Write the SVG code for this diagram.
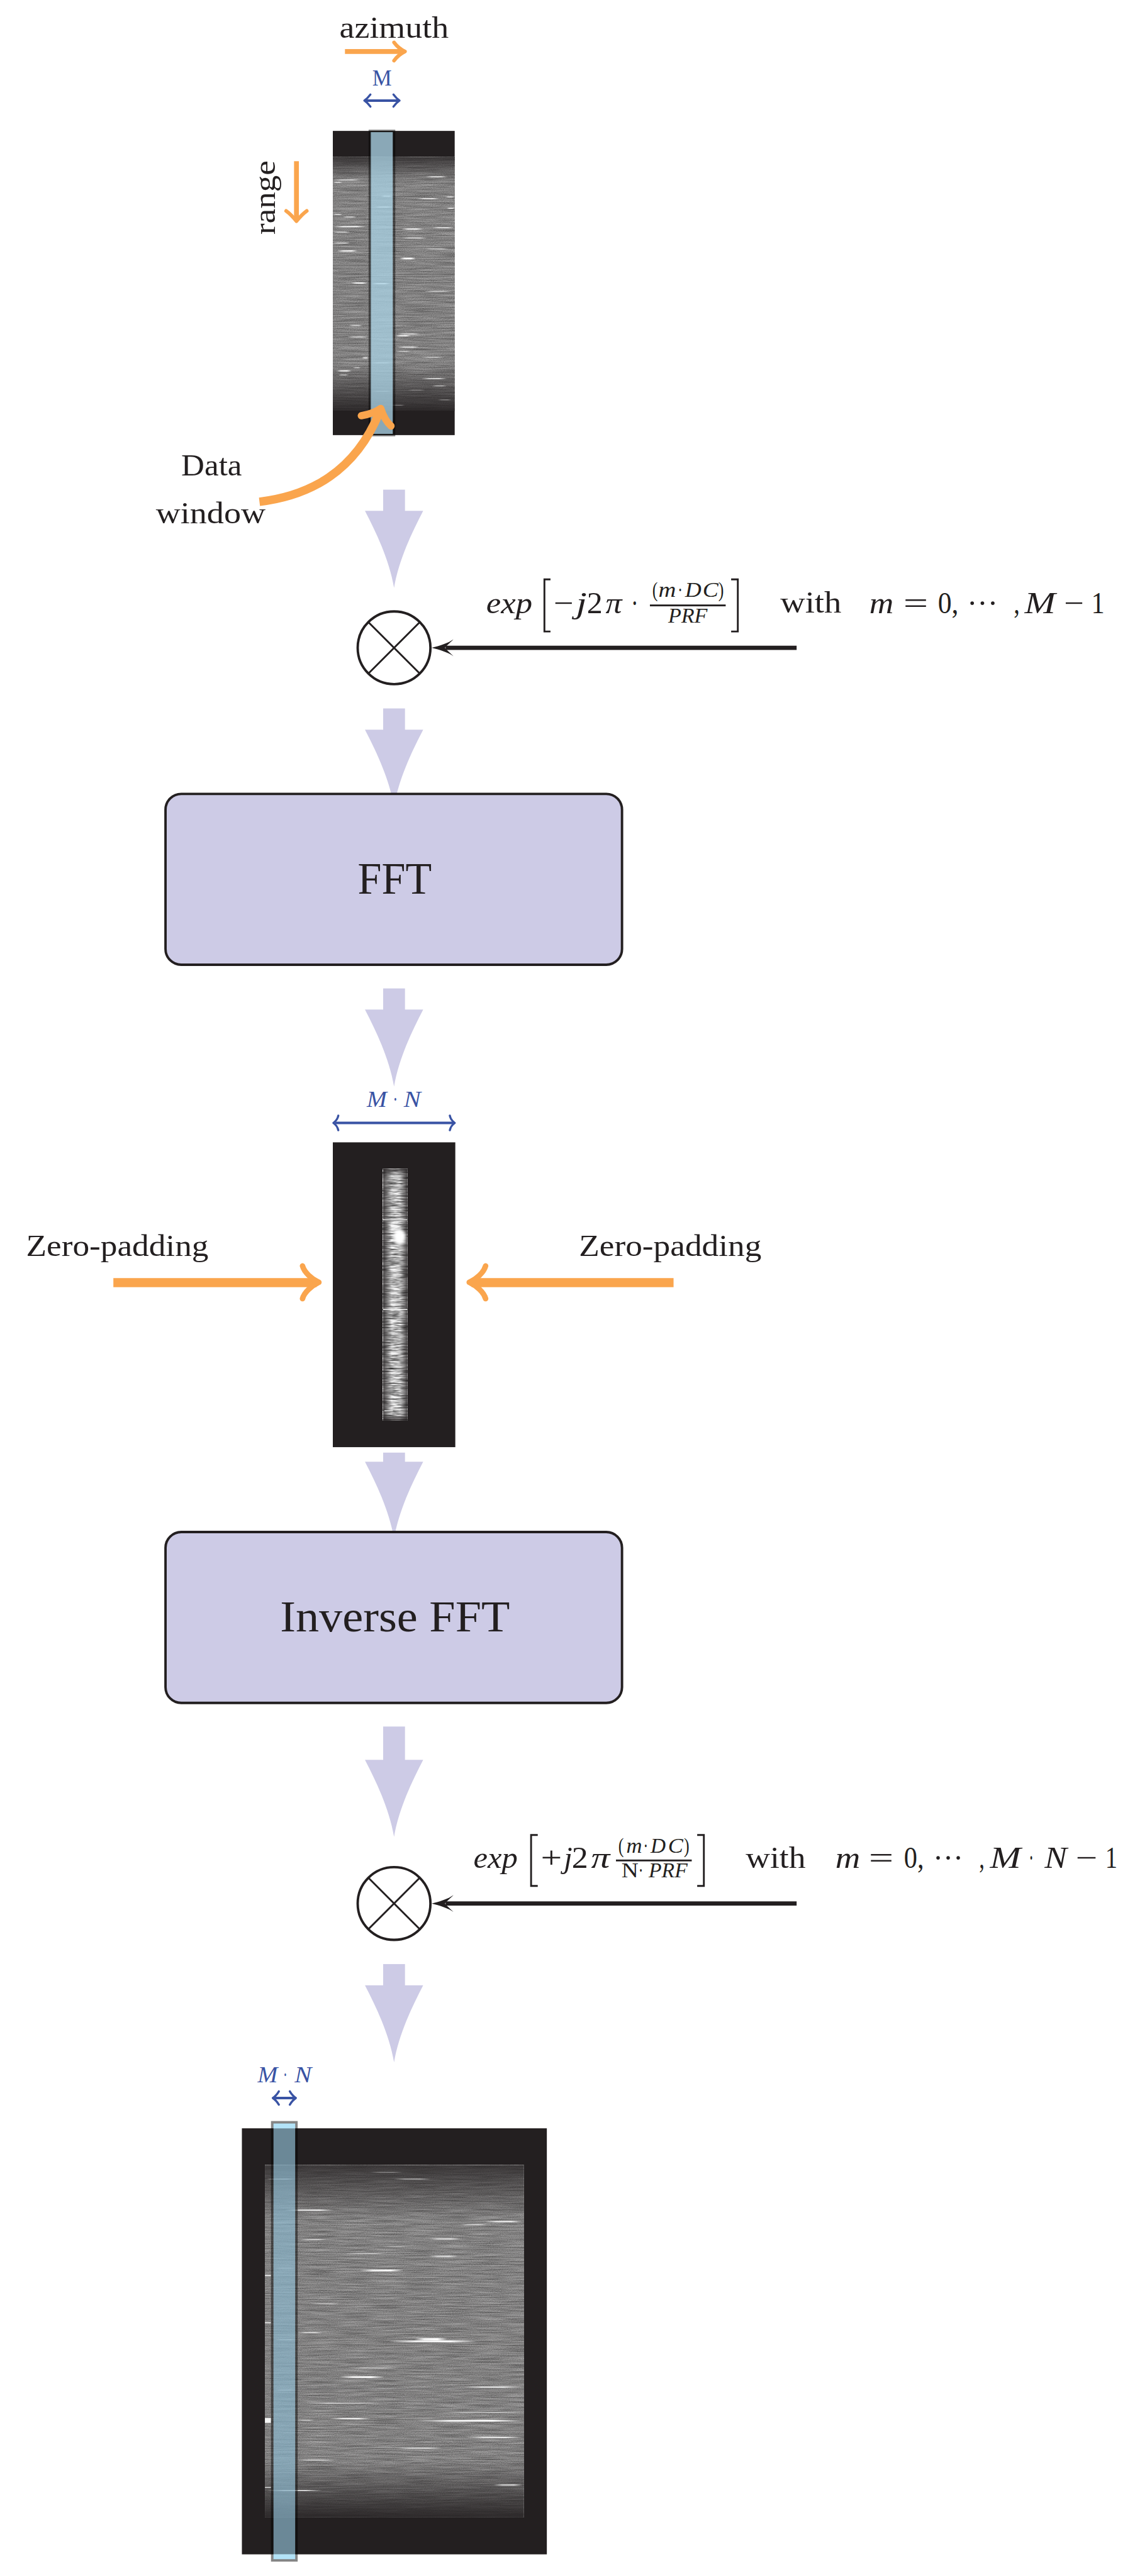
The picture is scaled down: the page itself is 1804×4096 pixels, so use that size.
<svg xmlns="http://www.w3.org/2000/svg" width="1804" height="4096" viewBox="0 0 1804 4096">
<style>
text{font-family:"Liberation Serif","Times New Roman",serif;fill:#231f20;font-size:50px}
.i{font-style:italic}
.f{font-size:36px}
.bl{fill:#3953a4;font-size:37px}
.lav{fill:#cdcbe6}
.ol{fill:none;stroke:#faa54d;stroke-linecap:butt}
.oh{fill:none;stroke:#faa54d;stroke-linecap:round;stroke-linejoin:round}
.be{fill:none;stroke:#3953a4;stroke-width:4}
.bh{fill:none;stroke:#3953a4;stroke-width:3.5;stroke-linecap:round;stroke-linejoin:round}
.box{fill:#cdcbe6;stroke:#231f20;stroke-width:4}
.mul{fill:#fff;stroke:#231f20;stroke-width:4}
.blk{fill:none;stroke:#231f20;stroke-width:3}
.br{fill:none;stroke:#231f20;stroke-width:3}
.dark{fill:#231f20}
.s{fill:url(#st)}
.b{opacity:1}.m{opacity:.65}.d{opacity:.35}
.win{fill:none;stroke:#000;stroke-opacity:.48;stroke-width:4}
</style>
<defs>
<filter id="sar" x="0" y="0" width="100%" height="100%" color-interpolation-filters="sRGB">
<feTurbulence type="fractalNoise" baseFrequency="0.018 0.5" numOctaves="3" seed="7" result="a"/>
<feColorMatrix in="a" type="matrix" values="1 0 0 0 0 1 0 0 0 0 1 0 0 0 0 0 0 0 0 1" result="a2"/>
<feTurbulence type="fractalNoise" baseFrequency="0.9 0.9" numOctaves="1" seed="3" result="g"/>
<feColorMatrix in="g" type="matrix" values="1 0 0 0 0 1 0 0 0 0 1 0 0 0 0 0 0 0 0 1" result="g2"/>
<feComposite in="a2" in2="g2" operator="arithmetic" k1="0" k2=".36" k3=".3" k4=".15"/>
<feColorMatrix type="matrix" values="1 0 0 0 0 1 0 0 0 0 1 0 0 0 0 0 1 0 0 .015 0 0 0 0 1"/>
</filter>
<filter id="sar2" x="0" y="0" width="100%" height="100%" color-interpolation-filters="sRGB">
<feTurbulence type="fractalNoise" baseFrequency="0.05 0.4" numOctaves="3" seed="11" result="a"/>
<feColorMatrix in="a" type="matrix" values="1.3 0 0 0 .08 1.3 0 0 0 .08 1.3 0 0 0 .08 0 0 0 0 1"/>
</filter>
<filter id="soft" x="-50%" y="-50%" width="200%" height="200%"><feGaussianBlur stdDeviation="3"/></filter>
<linearGradient id="st"><stop offset="0" stop-color="#fff" stop-opacity="0"/><stop offset=".3" stop-color="#fff" stop-opacity=".9"/><stop offset=".7" stop-color="#fff"/><stop offset="1" stop-color="#fff" stop-opacity="0"/></linearGradient>
<linearGradient id="fd" x1="0" y1="0" x2="0" y2="1"><stop offset="0" stop-color="#231f20" stop-opacity=".75"/><stop offset="1" stop-color="#231f20" stop-opacity="0"/></linearGradient>
<linearGradient id="fu" x1="0" y1="1" x2="0" y2="0"><stop offset="0" stop-color="#231f20" stop-opacity=".9"/><stop offset="1" stop-color="#231f20" stop-opacity="0"/></linearGradient>
<linearGradient id="fh"><stop offset="0" stop-color="#231f20" stop-opacity=".8"/><stop offset=".35" stop-color="#231f20" stop-opacity=".05"/><stop offset=".7" stop-color="#231f20" stop-opacity=".05"/><stop offset="1" stop-color="#231f20" stop-opacity=".8"/></linearGradient>
<path id="head" d="M-48 0C-30 35-8 80 0 127C8 80 30 35 48 0Z" fill="#cdcbe6"/>
<path id="bh" d="M0 0C13-3 28-8 36-14C29-7 24-3 22 0C24 3 29 7 36 14C28 8 13 3 0 0Z" fill="#231f20"/>
</defs>
<rect width="1804" height="4096" fill="#fff"/>
<g transform="scale(0.9636)">

<g id="connectors">
<g id="flow-arrows">
<rect class="lav" x="632" y="808" width="36" height="36"/><use href="#head" x="650" y="843"/>
<rect class="lav" x="632" y="1169" width="36" height="36"/><use href="#head" x="650" y="1204"/>
<rect class="lav" x="632" y="1631" width="36" height="36"/><use href="#head" x="650" y="1666"/>
<rect class="lav" x="632" y="2397" width="36" height="16"/><use href="#head" x="650" y="2412"/>
<rect class="lav" x="632" y="2849" width="36" height="56"/><use href="#head" x="650" y="2904"/>
<rect class="lav" x="632" y="3241" width="36" height="36"/><use href="#head" x="650" y="3276"/>
</g>
<g id="black-arrows">
<rect class="dark" x="735" y="1065.5" width="579" height="7"/><use href="#bh" x="712" y="1069"/>
<rect class="dark" x="735" y="3137.5" width="579" height="7"/><use href="#bh" x="712" y="3141"/>
</g>
</g>

<g id="node-top-image">
<rect class="dark" x="549" y="216" width="201" height="502"/>
<rect x="549" y="259" width="201" height="418" fill="#777" filter="url(#sar)"/>
<rect x="549" y="259" width="201" height="40" fill="url(#fd)"/>
<rect x="549" y="600" width="201" height="78" fill="url(#fu)"/>
<g>
<rect class="s b" x="702" y="291" width="36" height="1.5"/><rect class="s m" x="549" y="296" width="46" height="2"/><rect class="s m" x="549" y="300" width="16" height="2"/>
<rect class="s b" x="628" y="323" width="20" height="1.5"/><rect class="s b" x="688" y="327" width="37" height="1.5"/><rect class="s m" x="735" y="324" width="15" height="2"/>
<rect class="s b" x="618" y="341" width="30" height="1.5"/><rect class="s b" x="737" y="343" width="13" height="1.5"/><rect class="s m" x="549" y="353" width="16" height="2"/><rect class="s m" x="565" y="357" width="23" height="2"/>
<rect class="s b" x="549" y="373" width="56" height="2"/><rect class="s b" x="662" y="377" width="36" height="2"/><rect class="s b" x="712" y="375" width="38" height="1.5"/><rect class="s m" x="549" y="382" width="29" height="2"/>
<rect class="s b" x="662" y="392" width="43" height="1.5"/><rect class="s m" x="549" y="400" width="29" height="2"/><rect class="s b" x="556" y="413" width="34" height="2"/>
<rect class="s b" x="659" y="425" width="27" height="3"/><rect class="s m" x="700" y="410" width="40" height="1.5"/><rect class="s b" x="579" y="466" width="27" height="2"/><rect class="s b" x="613" y="467" width="31" height="2"/>
<rect class="s m" x="700" y="480" width="45" height="1.5"/><rect class="s m" x="575" y="536" width="23" height="2"/><rect class="s m" x="655" y="550" width="37" height="2"/><rect class="s b" x="652" y="553" width="26" height="2"/>
<rect class="s m" x="572" y="555" width="36" height="2"/><rect class="s b" x="655" y="572" width="37" height="1.5"/><rect class="s m" x="652" y="579" width="26" height="1.5"/><rect class="s m" x="695" y="589" width="37" height="1.5"/><rect class="s m" x="597" y="589" width="11" height="3"/>
<rect class="s b" x="555" y="611" width="25" height="2"/><rect class="s m" x="582" y="606" width="13" height="1.5"/><rect class="s b" x="695" y="624" width="42" height="1.5"/><rect class="s m" x="712" y="636" width="25" height="1.5"/><rect class="s m" x="558" y="618" width="17" height="1.5"/>
<rect class="s d" x="722" y="659" width="23" height="1.5"/><rect class="s d" x="645" y="668" width="23" height="1.5"/><rect class="s d" x="672" y="643" width="30" height="1.5"/><rect class="s m" x="612" y="598" width="36" height="1.5"/><rect class="s d" x="612" y="645" width="36" height="1.5"/>
</g>
<rect x="611" y="218" width="37" height="498" fill="#a8d0e2" opacity=".78"/>
<rect class="win" x="610" y="216" width="40" height="502"/>
</g>

<g id="node-azimuth">
<text x="560" y="62" textLength="180" lengthAdjust="spacingAndGlyphs">azimuth</text>
<rect x="569" y="81" width="95" height="8" fill="#faa54d"/>
<path class="oh" stroke-width="6" d="M650 70C655 77 662 82 668 85C662 88 655 93 650 100"/>
</g>
<g id="node-m-label">
<text class="bl" x="614" y="141" textLength="32" lengthAdjust="spacingAndGlyphs">M</text>
<line class="be" x1="602" y1="166" x2="657" y2="166"/>
<path class="bh" d="M611 156C608 160 604 164 601 166C604 168 608 172 611 176"/>
<path class="bh" d="M649 156C652 160 656 164 659 166C656 168 652 172 649 176"/>
</g>
<g id="node-range">
<text transform="translate(454 387) rotate(-90)" textLength="122" lengthAdjust="spacingAndGlyphs">range</text>
<rect x="485" y="266" width="8" height="95" fill="#faa54d"/>
<path class="oh" stroke-width="6" d="M472 348C479 353 485 360 489 365C493 360 499 353 506 348"/>
</g>
<g id="node-data-window">
<text x="299" y="785" textLength="100" lengthAdjust="spacingAndGlyphs">Data</text>
<text x="257" y="863" textLength="181" lengthAdjust="spacingAndGlyphs">window</text>
<path class="ol" stroke-width="14" d="M428 828C510 818 585 780 626 680"/>
<path class="oh" stroke-width="12" d="M596 686C608 684 620 680 628 674C632 686 637 696 645 703"/>
</g>

<g id="node-mult-1">
<circle class="mul" cx="650" cy="1069" r="60"/>
<path class="blk" d="M607.6 1026.6L692.4 1111.4M692.4 1026.6L607.6 1111.4"/>
</g>
<g id="node-formula-1">
<text class="i" x="802" y="1012" textLength="76" lengthAdjust="spacingAndGlyphs">exp</text>
<path class="br" d="M908 956H898V1042H908"/>
<text x="913" y="1012" textLength="33" lengthAdjust="spacingAndGlyphs">−</text>
<text class="i" x="950" y="1012" textLength="18" lengthAdjust="spacingAndGlyphs">j</text>
<text x="968" y="1012" textLength="26" lengthAdjust="spacingAndGlyphs">2</text>
<text class="i" x="999" y="1012" textLength="27" lengthAdjust="spacingAndGlyphs">π</text>
<text x="1041" y="1012" textLength="12" lengthAdjust="spacingAndGlyphs">·</text>
<text class="f" x="1076" y="985" textLength="9" lengthAdjust="spacingAndGlyphs">(</text>
<text class="f i" x="1086" y="985" textLength="29" lengthAdjust="spacingAndGlyphs">m</text>
<text class="f" x="1118" y="985" textLength="8" lengthAdjust="spacingAndGlyphs">·</text>
<text class="f i" x="1130" y="985" textLength="27" lengthAdjust="spacingAndGlyphs">D</text>
<text class="f i" x="1159" y="985" textLength="26" lengthAdjust="spacingAndGlyphs">C</text>
<text class="f" x="1185" y="985" textLength="9" lengthAdjust="spacingAndGlyphs">)</text>
<rect class="dark" x="1072" y="997.5" width="125" height="3"/>
<text class="f i" x="1102" y="1027" textLength="65" lengthAdjust="spacingAndGlyphs">PRF</text>
<path class="br" d="M1206 956H1217V1042H1206"/>
<text x="1287" y="1011" textLength="101" lengthAdjust="spacingAndGlyphs">with</text>
<text class="i" x="1434" y="1012" textLength="40" lengthAdjust="spacingAndGlyphs">m</text>
<text x="1490" y="1012" textLength="41" lengthAdjust="spacingAndGlyphs">=</text>
<text x="1547" y="1012" textLength="34" lengthAdjust="spacingAndGlyphs">0,</text>
<text x="1595" y="1012" textLength="51" lengthAdjust="spacingAndGlyphs">···</text>
<text x="1672" y="1012" textLength="10" lengthAdjust="spacingAndGlyphs">,</text>
<text class="i" x="1690" y="1012" textLength="51" lengthAdjust="spacingAndGlyphs">M</text>
<text x="1755" y="1012" textLength="33" lengthAdjust="spacingAndGlyphs">−</text>
<text x="1800" y="1012" textLength="22" lengthAdjust="spacingAndGlyphs">1</text>
</g>

<g id="node-fft">
<rect class="box" x="273" y="1310" width="753" height="282" rx="26"/>
<text x="590" y="1475" style="font-size:75px" textLength="122" lengthAdjust="spacingAndGlyphs">FFT</text>
</g>

<g id="node-mn-label-mid">
<text class="bl i" x="605" y="1827" textLength="33" lengthAdjust="spacingAndGlyphs">M</text>
<text class="bl" x="648" y="1827" textLength="8" lengthAdjust="spacingAndGlyphs">·</text>
<text class="bl i" x="666" y="1827" textLength="28" lengthAdjust="spacingAndGlyphs">N</text>
<line class="be" x1="553" y1="1853" x2="748" y2="1853"/>
<path class="bh" d="M558 1841C557 1846 553 1851 550 1853C553 1855 557 1860 558 1865"/>
<path class="bh" d="M742 1841C743 1846 747 1851 750 1853C747 1855 743 1860 742 1865"/>
</g>
<g id="node-mid-image">
<rect class="dark" x="549" y="1885" width="202" height="503"/>
<rect x="632" y="1929" width="40" height="415" fill="#999" filter="url(#sar2)"/>
<rect x="632" y="1929" width="40" height="415" fill="url(#fh)"/>
<rect x="632" y="1929" width="40" height="10" fill="url(#fd)"/>
<rect x="632" y="2334" width="40" height="10" fill="url(#fu)"/>
<ellipse cx="659" cy="2041" rx="10" ry="13" fill="#fff" filter="url(#soft)"/>
<rect class="b" x="632" y="2012" width="40" height="1.5" fill="#ddd"/>
<rect class="b" x="632" y="2160" width="40" height="1.5" fill="#fff"/>
<rect class="b" x="634" y="2327" width="14" height="1.5" fill="#ddd"/>
</g>
<g id="node-zero-left">
<text x="43" y="2072" textLength="301" lengthAdjust="spacingAndGlyphs">Zero-padding</text>
<rect x="187" y="2109" width="335" height="15" fill="#faa54d"/>
<path class="oh" stroke-width="9" d="M499 2089C502 2100 514 2110 526 2116C514 2122 502 2132 499 2143"/>
</g>
<g id="node-zero-right">
<text x="955" y="2072" textLength="301" lengthAdjust="spacingAndGlyphs">Zero-padding</text>
<rect x="778" y="2109" width="333" height="15" fill="#faa54d"/>
<path class="oh" stroke-width="9" d="M801 2089C798 2100 786 2110 774 2116C786 2122 798 2132 801 2143"/>
</g>

<g id="node-inverse-fft">
<rect class="box" x="273" y="2528" width="753" height="282" rx="26"/>
<text x="462" y="2692" style="font-size:72px" textLength="379" lengthAdjust="spacingAndGlyphs">Inverse FFT</text>
</g>

<g id="node-mult-2">
<circle class="mul" cx="650" cy="3141" r="60"/>
<path class="blk" d="M607.6 3098.6L692.4 3183.4M692.4 3098.6L607.6 3183.4"/>
</g>
<g id="node-formula-2">
<text class="i" x="781" y="3082" textLength="73" lengthAdjust="spacingAndGlyphs">exp</text>
<path class="br" d="M887 3028H876V3112H887"/>
<text x="892" y="3082" textLength="35" lengthAdjust="spacingAndGlyphs">+</text>
<text class="i" x="930" y="3082" textLength="14" lengthAdjust="spacingAndGlyphs">j</text>
<text x="943" y="3082" textLength="27" lengthAdjust="spacingAndGlyphs">2</text>
<text class="i" x="975" y="3082" textLength="31" lengthAdjust="spacingAndGlyphs">π</text>
<text class="f" x="1020" y="3057" textLength="9" lengthAdjust="spacingAndGlyphs">(</text>
<text class="f i" x="1033" y="3057" textLength="26" lengthAdjust="spacingAndGlyphs">m</text>
<text class="f" x="1061" y="3057" textLength="8" lengthAdjust="spacingAndGlyphs">·</text>
<text class="f i" x="1073" y="3057" textLength="25" lengthAdjust="spacingAndGlyphs">D</text>
<text class="f i" x="1102" y="3057" textLength="25" lengthAdjust="spacingAndGlyphs">C</text>
<text class="f" x="1128" y="3057" textLength="9" lengthAdjust="spacingAndGlyphs">)</text>
<rect class="dark" x="1016" y="3068.5" width="125" height="3"/>
<text class="f" x="1025" y="3098" textLength="28" lengthAdjust="spacingAndGlyphs">N</text>
<text class="f" x="1053" y="3098" textLength="8" lengthAdjust="spacingAndGlyphs">·</text>
<text class="f i" x="1070" y="3098" textLength="64" lengthAdjust="spacingAndGlyphs">PRF</text>
<path class="br" d="M1150 3028H1161V3112H1150"/>
<text x="1230" y="3082" textLength="99" lengthAdjust="spacingAndGlyphs">with</text>
<text class="i" x="1378" y="3082" textLength="41" lengthAdjust="spacingAndGlyphs">m</text>
<text x="1433" y="3082" textLength="41" lengthAdjust="spacingAndGlyphs">=</text>
<text x="1491" y="3082" textLength="33" lengthAdjust="spacingAndGlyphs">0,</text>
<text x="1539" y="3082" textLength="50" lengthAdjust="spacingAndGlyphs">···</text>
<text x="1615" y="3082" textLength="9" lengthAdjust="spacingAndGlyphs">,</text>
<text class="i" x="1633" y="3082" textLength="51" lengthAdjust="spacingAndGlyphs">M</text>
<text x="1697" y="3082" textLength="8" lengthAdjust="spacingAndGlyphs">·</text>
<text class="i" x="1723" y="3082" textLength="37" lengthAdjust="spacingAndGlyphs">N</text>
<text x="1774" y="3082" textLength="36" lengthAdjust="spacingAndGlyphs">−</text>
<text x="1823" y="3082" textLength="20" lengthAdjust="spacingAndGlyphs">1</text>
</g>

<g id="node-mn-label-bottom">
<text class="bl i" x="425" y="3436" textLength="33" lengthAdjust="spacingAndGlyphs">M</text>
<text class="bl" x="467" y="3436" textLength="7" lengthAdjust="spacingAndGlyphs">·</text>
<text class="bl i" x="486" y="3436" textLength="28" lengthAdjust="spacingAndGlyphs">N</text>
<line class="be" x1="451" y1="3462" x2="487" y2="3462"/>
<path class="bh" d="M460 3451C457 3456 453 3460 450 3462C453 3464 457 3468 460 3473"/>
<path class="bh" d="M478 3451C481 3456 485 3460 488 3462C485 3464 481 3468 478 3473"/>
</g>
<g id="node-bottom-image">
<rect class="dark" x="399" y="3512" width="503" height="703"/>
<rect x="437" y="3573" width="427" height="581" fill="#777" filter="url(#sar)"/>
<rect x="437" y="3573" width="427" height="90" fill="url(#fd)"/>
<rect x="437" y="4060" width="427" height="94" fill="url(#fu)"/>
<g>
<rect class="s d" x="610" y="3584" width="54" height="1.5"/><rect class="s m" x="649" y="3595" width="62" height="1.5"/><rect class="s b" x="470" y="3646" width="82" height="2"/>
<rect class="s b" x="800" y="3665" width="62" height="2"/><rect class="s m" x="759" y="3670" width="44" height="2"/><rect class="s m" x="707" y="3693" width="52" height="3"/><rect class="s m" x="494" y="3695" width="44" height="1.5"/>
<rect class="s m" x="569" y="3718" width="69" height="1.5"/><rect class="s d" x="631" y="3706" width="42" height="2"/><rect class="s b" x="593" y="3745" width="73" height="3"/><rect class="s m" x="707" y="3722" width="48" height="3"/>
<rect class="s m" x="511" y="3801" width="51" height="1.5"/><rect class="b" x="437" y="3754" width="10" height="2" fill="#eee"/><rect class="b" x="437" y="3832" width="10" height="1.5" fill="#eee"/>
<rect class="s m" x="491" y="3848" width="41" height="2"/><rect class="s b" x="642" y="3862" width="144" height="3"/><rect class="s b" x="683" y="3858" width="55" height="4"/>
<rect class="s m" x="573" y="3907" width="82" height="1.5"/><rect class="s b" x="559" y="3921" width="76" height="3"/><rect class="s b" x="766" y="3938" width="93" height="2"/>
<rect class="s m" x="504" y="3965" width="127" height="1.5"/><rect class="s m" x="491" y="3993" width="27" height="1.5"/><rect class="s b" x="545" y="3990" width="66" height="2"/>
<rect class="b" x="437" y="3990" width="10" height="8" fill="#f4f4f4"/><rect class="s b" x="690" y="3993" width="175" height="3"/><rect class="s m" x="725" y="3980" width="137" height="1.5"/>
<rect class="s b" x="769" y="4021" width="93" height="2"/><rect class="s b" x="652" y="4039" width="78" height="1.5"/><rect class="s m" x="491" y="4059" width="61" height="1.5"/>
<rect class="s b" x="440" y="4109" width="92" height="1.5"/><rect class="s m" x="814" y="4099" width="48" height="3"/><rect class="b" x="437" y="4104" width="10" height="1.5" fill="#ddd"/>
<rect class="s m" x="440" y="3595" width="47" height="1.5"/><rect class="s m" x="451" y="3742" width="40" height="1.5"/><rect class="s m" x="451" y="3860" width="40" height="1.5"/><rect class="s m" x="451" y="3943" width="40" height="1.5"/>
</g>
<rect x="451" y="3504" width="36" height="719" fill="#8ab5ca" opacity=".7"/>
<rect x="451" y="3504" width="36" height="8" fill="#b3e3f8"/>
<rect x="451" y="4215" width="36" height="8" fill="#b3e3f8"/>
<rect class="win" x="449" y="3502" width="40" height="723"/>
</g>
</g>
</svg>
